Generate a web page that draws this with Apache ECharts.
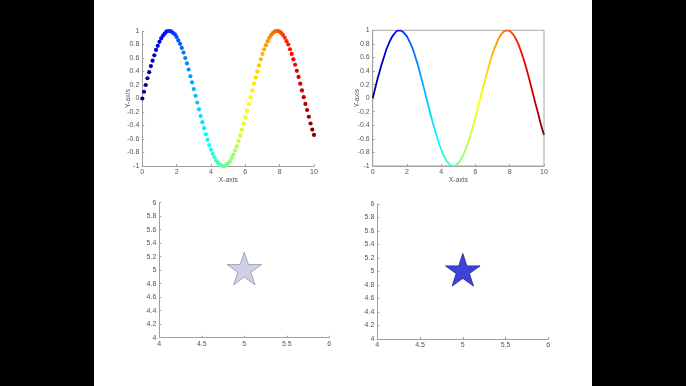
<!DOCTYPE html>
<html>
<head>
<meta charset="utf-8">
<script src="https://cdn.jsdelivr.net/npm/echarts@6/dist/echarts.min.js"></script>
<style>
html,body{margin:0;padding:0;background:#000;}
#c{width:686px;height:386px;}
</style>
</head>
<body>
<div id="c"></div>
<script>
// ---- data ----
var xs = [0,0.1,0.2,0.3,0.4,0.5,0.6,0.7,0.8,0.9,1,1.1,1.2,1.3,1.4,1.5,1.6,1.7,1.8,1.9,2,2.1,2.2,2.3,2.4,2.5,2.6,2.7,2.8,2.9,3,3.1,3.2,3.3,3.4,3.5,3.6,3.7,3.8,3.9,4,4.1,4.2,4.3,4.4,4.5,4.6,4.7,4.8,4.9,5,5.1,5.2,5.3,5.4,5.5,5.6,5.7,5.8,5.9,6,6.1,6.2,6.3,6.4,6.5,6.6,6.7,6.8,6.9,7,7.1,7.2,7.3,7.4,7.5,7.6,7.7,7.8,7.9,8,8.1,8.2,8.3,8.4,8.5,8.6,8.7,8.8,8.9,9,9.1,9.2,9.3,9.4,9.5,9.6,9.7,9.8,9.9,10];
var ys = [0.00,0.10,0.20,0.30,0.39,0.48,0.56,0.64,0.72,0.78,0.84,0.89,0.93,0.96,0.99,1.00,1.00,0.99,0.97,0.95,0.91,0.86,0.81,0.75,0.68,0.60,0.52,0.43,0.33,0.24,0.14,0.04,-0.06,-0.16,-0.26,-0.35,-0.44,-0.53,-0.61,-0.69,-0.76,-0.82,-0.87,-0.92,-0.95,-0.98,-0.99,-1.00,-1.00,-0.98,-0.96,-0.93,-0.88,-0.83,-0.77,-0.71,-0.63,-0.55,-0.46,-0.37,-0.28,-0.18,-0.08,0.02,0.12,0.22,0.31,0.40,0.49,0.58,0.66,0.73,0.79,0.85,0.90,0.94,0.97,0.99,1.00,1.00,0.99,0.97,0.94,0.90,0.85,0.80,0.73,0.66,0.58,0.50,0.41,0.32,0.22,0.12,0.02,-0.08,-0.17,-0.27,-0.37,-0.46,-0.54];
var starX = [5.000,5.048,5.202,5.077,5.125,5.000,4.875,4.923,4.798,4.952];
var starY = [5.267,5.083,5.083,4.969,4.784,4.898,4.784,4.969,5.083,5.083];
var jetColors = ['#00007f','#0000ff','#007fff','#00ffff','#7fff7f','#ffff00','#ff7f00','#ff0000','#7f0000'];
var xNameTop = 'X-axis';
var yNameTop = 'Y-axis';

// ---- chart ----
var chart = echarts.init(document.getElementById('c'));
var sinData = xs.map(function(x,i){return [x, ys[i]];});
var starData = [[5,5]];

var txt = {color:'#555', fontSize:7, fontFamily:'Liberation Sans, Arial, sans-serif'};
function axisBase(extra){
  var a = {
    axisLine:{show:true, onZero:false, lineStyle:{color:'#a0a0a0', width:1}},
    axisTick:{show:true, inside:true, length:2, lineStyle:{color:'#a0a0a0'}},
    axisLabel:Object.assign({margin:3}, txt),
    splitLine:{show:false},
    nameTextStyle:txt,
    nameMoveOverlap:false
  };
  return Object.assign(a, extra);
}
function starRender(fill, stroke){
  return function(params, api){
    var pts = starX.map(function(x,i){return api.coord([x, starY[i]]);});
    return {type:'polygon', shape:{points:pts}, style:{fill:fill, stroke:stroke, lineWidth:0.8}};
  };
}

chart.setOption({
  backgroundColor:'#000',
  animation:false,
  graphic:[{type:'rect', left:94, top:0, shape:{width:498, height:386}, style:{fill:'#fff'}, z:-100, silent:true}],
  grid:[
    {left:142.3, top:31, width:171.7, height:135},
    {left:372.7, top:30.3, width:171.3, height:135.7, show:true, borderColor:'#a8a8a8', borderWidth:1},
    {left:159.3, top:202.7, width:170, height:135},
    {left:377.3, top:204, width:171, height:135}
  ],
  xAxis:[
    axisBase({type:'value', gridIndex:0, min:0, max:10, interval:2, name:xNameTop, nameLocation:'middle', nameGap:11}),
    axisBase({type:'value', gridIndex:1, min:0, max:10, interval:2, name:xNameTop, nameLocation:'middle', nameGap:11}),
    axisBase({type:'value', gridIndex:2, min:4, max:6, interval:0.5}),
    axisBase({type:'value', gridIndex:3, min:4, max:6, interval:0.5})
  ],
  yAxis:[
    axisBase({type:'value', gridIndex:0, min:-1, max:1, interval:0.2, name:yNameTop, nameLocation:'middle', nameGap:11}),
    axisBase({type:'value', gridIndex:1, min:-1, max:1, interval:0.2, name:yNameTop, nameLocation:'middle', nameGap:12}),
    axisBase({type:'value', gridIndex:2, min:4, max:6, interval:0.2}),
    axisBase({type:'value', gridIndex:3, min:4, max:6, interval:0.2})
  ],
  visualMap:[{type:'continuous', show:false, dimension:0, min:0, max:10, seriesIndex:[0,1], inRange:{color:jetColors}}],
  series:[
    {type:'scatter', xAxisIndex:0, yAxisIndex:0, data:sinData, symbolSize:4.2, itemStyle:{opacity:1}},
    {type:'line', xAxisIndex:1, yAxisIndex:1, data:sinData, showSymbol:false, smooth:false, lineStyle:{width:1.8}},
    {type:'custom', xAxisIndex:2, yAxisIndex:2, data:starData, renderItem:starRender('#cfd1e3','#8e93b5')},
    {type:'custom', xAxisIndex:3, yAxisIndex:3, data:starData, renderItem:starRender('#3f43d8','#20209a')}
  ]
});
</script>
</body>
</html>
